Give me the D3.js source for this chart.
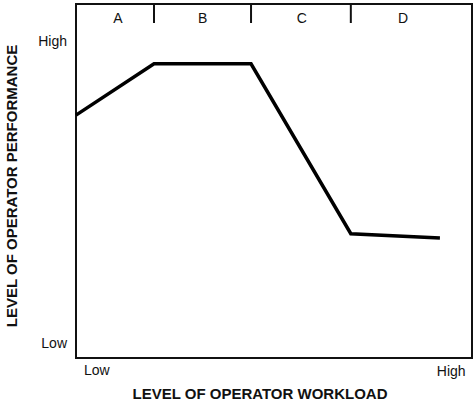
<!DOCTYPE html>
<html>
<head>
<meta charset="utf-8">
<script src="https://cdn.jsdelivr.net/npm/d3@7"></script>
<style>
  body { margin: 0; background: #fff; }
  svg { display: block; font-family: "Liberation Sans", Arial, sans-serif; }
</style>
</head>
<body>
<div id="chart"></div>
<script>
// workload (0-100) vs performance (0-100)
const workload = [0, 19.7, 44.2, 69.4, 91.9];
const performance = [68.6, 83.1, 83.1, 35.1, 33.9];

const regions = ["A", "B", "C", "D"];
const regionEdges = [19.7, 44.2, 69.4];
const regionLabelAt = [10.6, 32, 57, 82.6];

const yTickLabels = ["Low", "High"];
const yTickValues = [4.2, 89.6];
const xTickLabels = ["Low", "High"];

const width = 474, height = 402;
const margin = { left: 76, right: 2, top: 4, bottom: 44 };

const svg = d3.select("#chart").append("svg")
    .attr("width", width)
    .attr("height", height);

const x = d3.scaleLinear().domain([0, 100]).range([margin.left, width - margin.right]);
const y = d3.scaleLinear().domain([0, 100]).range([height - margin.bottom, margin.top]);

// frame
svg.append("rect")
    .attr("x", x(0))
    .attr("y", y(100))
    .attr("width", x(100) - x(0))
    .attr("height", y(0) - y(100))
    .attr("fill", "none")
    .attr("stroke", "#111")
    .attr("stroke-width", 2);

// region dividers at top
svg.append("g")
    .selectAll("line")
    .data(regionEdges)
    .enter()
    .append("line")
    .attr("x1", d => x(d))
    .attr("x2", d => x(d))
    .attr("y1", y(100))
    .attr("y2", y(100) + 19)
    .attr("stroke", "#111")
    .attr("stroke-width", 2);

svg.append("g")
    .selectAll("text")
    .data(regions)
    .enter()
    .append("text")
    .attr("x", (d, i) => x(regionLabelAt[i]))
    .attr("y", 23)
    .attr("text-anchor", "middle")
    .attr("font-size", 14)
    .attr("fill", "#111")
    .text(d => d);

// y tick labels
svg.append("g")
    .selectAll("text")
    .data(yTickLabels)
    .enter()
    .append("text")
    .attr("x", x(0) - 9)
    .attr("y", (d, i) => y(yTickValues[i]))
    .attr("dy", "0.35em")
    .attr("text-anchor", "end")
    .attr("font-size", 14)
    .attr("fill", "#111")
    .text(d => d);

// x tick labels
svg.append("text")
    .attr("x", x(2))
    .attr("y", y(0) + 17)
    .attr("font-size", 14)
    .attr("fill", "#111")
    .text(xTickLabels[0]);

svg.append("text")
    .attr("x", x(98.4))
    .attr("y", y(0) + 18)
    .attr("text-anchor", "end")
    .attr("font-size", 14)
    .attr("fill", "#111")
    .text(xTickLabels[1]);

// axis titles
svg.append("text")
    .attr("x", 260)
    .attr("y", 399)
    .attr("text-anchor", "middle")
    .attr("font-size", 15)
    .attr("font-weight", "bold")
    .attr("fill", "#111")
    .text("LEVEL OF OPERATOR WORKLOAD");

svg.append("text")
    .attr("transform", "translate(17,186) rotate(-90)")
    .attr("text-anchor", "middle")
    .attr("font-size", 15)
    .attr("font-weight", "bold")
    .attr("fill", "#111")
    .text("LEVEL OF OPERATOR PERFORMANCE");

// performance curve
const line = d3.line()
    .x((d, i) => x(workload[i]))
    .y(d => y(d));

svg.append("path")
    .datum(performance)
    .attr("d", line)
    .attr("fill", "none")
    .attr("stroke", "#000")
    .attr("stroke-width", 3.5)
    .attr("stroke-linejoin", "miter");
</script>
</body>
</html>
